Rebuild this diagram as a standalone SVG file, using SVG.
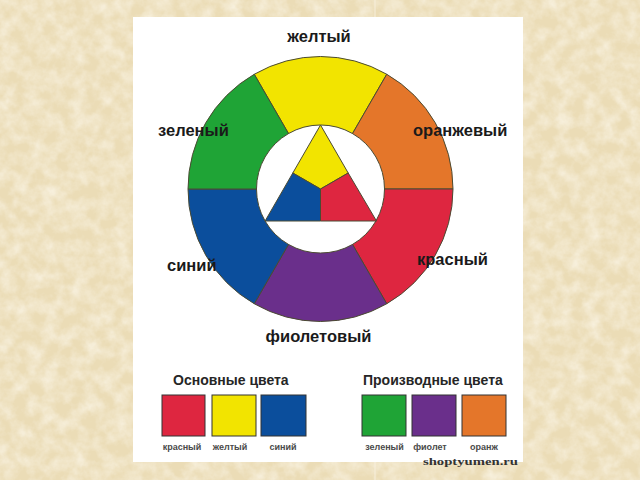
<svg xmlns="http://www.w3.org/2000/svg" width="640" height="480" viewBox="0 0 640 480">
  <defs>
    <filter id="tex" x="0" y="0" width="100%" height="100%">
      <feTurbulence type="fractalNoise" baseFrequency="0.07" numOctaves="4" seed="7"/>
      <feColorMatrix type="matrix" values="0 0 0 0 0.99  0 0 0 0 0.96  0 0 0 0 0.88  1.1 0 0 0 -0.35"/>
    </filter>
    <style>
      .seg { stroke: #4b4a32; stroke-width: 1; stroke-linejoin: round; }
      .lbl { font-family: "Liberation Sans", Arial, sans-serif; font-weight: bold; font-size: 16.5px; fill: #1a1a1a; }
      .hdr { font-family: "Liberation Sans", Arial, sans-serif; font-weight: bold; font-size: 14px; fill: #262626; }
      .sm { font-family: "Liberation Sans", Arial, sans-serif; font-weight: bold; font-size: 9px; fill: #4a4a4a; text-anchor: middle; }
      .sq { stroke: #333; stroke-width: 1; }
      .y { fill: #f2e400; } .o { fill: #e4762a; } .r { fill: #de2640; }
      .p { fill: #6a2f8b; } .b { fill: #0b4e9c; } .g { fill: #1fa436; }
    </style>
  </defs>

  <!-- background -->
  <rect x="0" y="0" width="640" height="480" fill="#ebdcb6"/>
  <rect x="0" y="0" width="640" height="480" filter="url(#tex)"/>
  <line x1="375" y1="0" x2="375" y2="18" stroke="#f7efdc" stroke-width="1"/>
  <line x1="375" y1="462" x2="375" y2="480" stroke="#f7efdc" stroke-width="1"/>

  <!-- white panel -->
  <rect x="133" y="17" width="390" height="445" fill="#ffffff"/>

  <g id="seg-yellow">
    <path class="seg y" d="M254.25,74.25 A132.5,132.5 0 0 1 386.75,74.25 L352.5,133.57 A64,64 0 0 0 288.5,133.57 Z"/>
    <text class="lbl" x="319" y="42" text-anchor="middle">желтый</text>
  </g>
  <g id="seg-orange">
    <path class="seg o" d="M386.75,74.25 A132.5,132.5 0 0 1 453,189 L384.5,189 A64,64 0 0 0 352.5,133.57 Z"/>
  </g>
  <g id="seg-red">
    <path class="seg r" d="M453,189 A132.5,132.5 0 0 1 386.75,303.75 L352.5,244.43 A64,64 0 0 0 384.5,189 Z"/>
  </g>
  <g id="seg-purple">
    <path class="seg p" d="M386.75,303.75 A132.5,132.5 0 0 1 254.25,303.75 L288.5,244.43 A64,64 0 0 0 352.5,244.43 Z"/>
    <text class="lbl" x="318.5" y="342" text-anchor="middle">фиолетовый</text>
  </g>
  <g id="seg-blue">
    <path class="seg b" d="M254.25,303.75 A132.5,132.5 0 0 1 188,189 L256.5,189 A64,64 0 0 0 288.5,244.43 Z"/>
  </g>
  <g id="seg-green">
    <path class="seg g" d="M188,189 A132.5,132.5 0 0 1 254.25,74.25 L288.5,133.57 A64,64 0 0 0 256.5,189 Z"/>
  </g>

  <!-- labels drawn over the ring -->
  <g id="labels">
    <text class="lbl" x="158" y="136">зеленый</text>
    <text class="lbl" x="413" y="136">оранжевый</text>
    <text class="lbl" x="167" y="271">синий</text>
    <text class="lbl" x="417" y="265">красный</text>
  </g>

  <g id="triangle">
    <path class="seg y" d="M320.5,125 L348.2,173 L320.5,189 L292.8,173 Z"/>
    <path class="seg b" d="M292.8,173 L320.5,189 L320.5,221 L265.1,221 Z"/>
    <path class="seg r" d="M320.5,189 L348.2,173 L376.5,221 L320.5,221 Z"/>
  </g>

  <g id="legend-primary">
    <text class="hdr" x="173" y="385">Основные цвета</text>
    <rect class="sq r" x="162" y="395" width="43" height="41"/>
    <rect class="sq y" x="212" y="395" width="44" height="41"/>
    <rect class="sq b" x="261" y="395" width="45" height="41"/>
    <text class="sm" x="182" y="450">красный</text>
    <text class="sm" x="230" y="450">желтый</text>
    <text class="sm" x="283" y="450">синий</text>
  </g>

  <g id="legend-derived">
    <text class="hdr" x="363" y="385">Производные цвета</text>
    <rect class="sq g" x="362" y="395" width="44" height="41"/>
    <rect class="sq p" x="412" y="395" width="44" height="41"/>
    <rect class="sq o" x="462" y="395" width="44" height="41"/>
    <text class="sm" x="384.5" y="450">зеленый</text>
    <text class="sm" x="430" y="450">фиолет</text>
    <text class="sm" x="484" y="450">оранж</text>
  </g>

  <g id="watermark">
    <text x="423" y="465" font-family="'Liberation Serif', 'Times New Roman', serif" font-weight="bold" font-size="11" textLength="95" lengthAdjust="spacingAndGlyphs" fill="#333333">shoptyumen.ru</text>
  </g>
</svg>
